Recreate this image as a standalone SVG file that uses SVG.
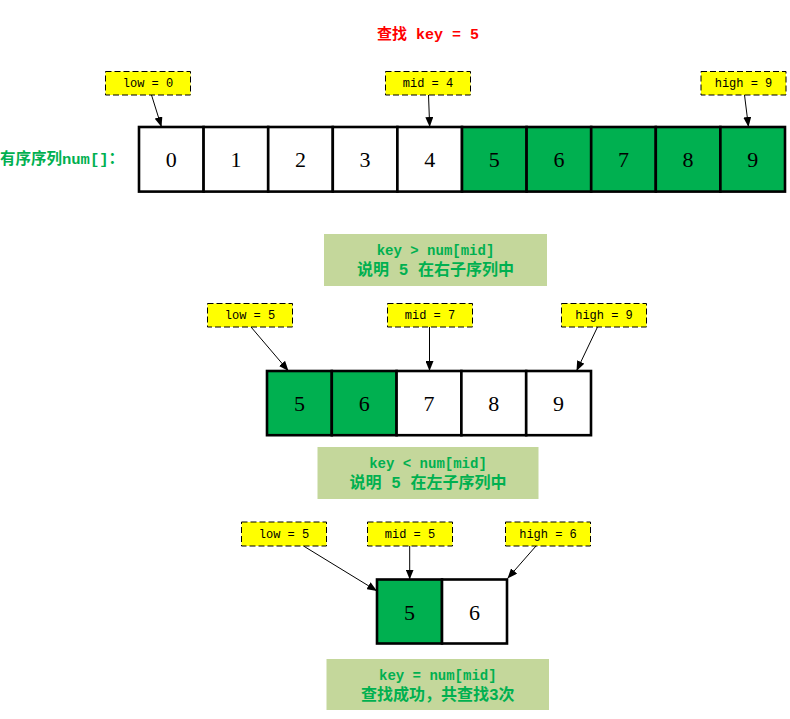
<svg xmlns="http://www.w3.org/2000/svg" width="790" height="719" viewBox="0 0 790 719">
<style>
.cell{stroke:#000;stroke-width:2.6}
.w{fill:#fff}
.g{fill:#00b050}
.num{font-family:"Liberation Serif","Noto Sans CJK SC",serif;font-size:22px;text-anchor:middle;fill:#000}
.tag rect{fill:#ffff00;stroke:#000;stroke-width:1;stroke-dasharray:6,3}
.tag text{font-family:"Liberation Mono","Noto Sans CJK SC",monospace;font-size:12px;text-anchor:middle;fill:#000}
.note rect{fill:#c4d79b}
.note text{font-family:"Liberation Mono","Noto Sans CJK SC",monospace;font-weight:bold;text-anchor:middle;fill:#00b050}
.l1{font-size:14px}
.l2{font-size:16px}
.conn line{stroke:#000;stroke-width:1;marker-end:url(#ah)}
</style>
<defs>
<marker id="ah" markerUnits="userSpaceOnUse" markerWidth="10" markerHeight="8" refX="10" refY="4" orient="auto">
<path d="M0,0 L10,4 L0,8 z" fill="#000"/>
</marker>
</defs>
<rect width="790" height="719" fill="#fff"/>
<g id="title"><text x="428" y="39" font-family="Liberation Mono,Noto Sans CJK SC,monospace" font-weight="bold" font-size="15" fill="#ff0000" text-anchor="middle">查找 key = 5</text></g>
<g id="arrayLabel"><text x="0" y="164" font-family="Liberation Mono,Noto Sans CJK SC,monospace" font-weight="bold" font-size="15.5" fill="#00b050">有序序列num[]：</text></g>

<g id="array1">
<g id="a1c0"><rect class="cell w" x="139" y="127" width="64.6" height="64.6"/><text class="num" x="171.3" y="167">0</text></g>
<g id="a1c1"><rect class="cell w" x="203.6" y="127" width="64.6" height="64.6"/><text class="num" x="235.9" y="167">1</text></g>
<g id="a1c2"><rect class="cell w" x="268.2" y="127" width="64.6" height="64.6"/><text class="num" x="300.5" y="167">2</text></g>
<g id="a1c3"><rect class="cell w" x="332.8" y="127" width="64.6" height="64.6"/><text class="num" x="365.1" y="167">3</text></g>
<g id="a1c4"><rect class="cell w" x="397.4" y="127" width="64.6" height="64.6"/><text class="num" x="429.7" y="167">4</text></g>
<g id="a1c5"><rect class="cell g" x="462" y="127" width="64.6" height="64.6"/><text class="num" x="494.3" y="167">5</text></g>
<g id="a1c6"><rect class="cell g" x="526.6" y="127" width="64.6" height="64.6"/><text class="num" x="558.9" y="167">6</text></g>
<g id="a1c7"><rect class="cell g" x="591.2" y="127" width="64.6" height="64.6"/><text class="num" x="623.5" y="167">7</text></g>
<g id="a1c8"><rect class="cell g" x="655.8" y="127" width="64.6" height="64.6"/><text class="num" x="688.1" y="167">8</text></g>
<g id="a1c9"><rect class="cell g" x="720.4" y="127" width="64.6" height="64.6"/><text class="num" x="752.7" y="167">9</text></g>
</g>

<g id="low1" class="tag"><rect x="105.5" y="71.5" width="85" height="23.5"/><text x="148" y="87">low = 0</text></g>
<g id="mid1" class="tag"><rect x="385.5" y="71.5" width="85" height="23.5"/><text x="428" y="87">mid = 4</text></g>
<g id="high1" class="tag"><rect x="701" y="71.5" width="85" height="23.5"/><text x="743.5" y="87">high = 9</text></g>

<g id="note1" class="note"><rect x="324" y="234" width="223" height="52"/><text class="l1" x="435.5" y="255">key &gt; num[mid]</text><text class="l2" x="435.5" y="275">说明 5 在右子序列中</text></g>

<g id="low2" class="tag"><rect x="207.5" y="303.5" width="85" height="23.5"/><text x="250" y="319">low = 5</text></g>
<g id="mid2" class="tag"><rect x="387.5" y="303.5" width="85" height="23.5"/><text x="430" y="319">mid = 7</text></g>
<g id="high2" class="tag"><rect x="561.5" y="303.5" width="85" height="23.5"/><text x="604" y="319">high = 9</text></g>

<g id="array2">
<g id="a2c0"><rect class="cell g" x="267" y="371" width="64.8" height="64.2"/><text class="num" x="299.4" y="411">5</text></g>
<g id="a2c1"><rect class="cell g" x="331.8" y="371" width="64.8" height="64.2"/><text class="num" x="364.2" y="411">6</text></g>
<g id="a2c2"><rect class="cell w" x="396.6" y="371" width="64.8" height="64.2"/><text class="num" x="429" y="411">7</text></g>
<g id="a2c3"><rect class="cell w" x="461.4" y="371" width="64.8" height="64.2"/><text class="num" x="493.8" y="411">8</text></g>
<g id="a2c4"><rect class="cell w" x="526.2" y="371" width="64.8" height="64.2"/><text class="num" x="558.6" y="411">9</text></g>
</g>

<g id="note2" class="note"><rect x="317.5" y="447" width="221" height="52"/><text class="l1" x="428" y="467.5">key &lt; num[mid]</text><text class="l2" x="428" y="487.5">说明 5 在左子序列中</text></g>

<g id="low3" class="tag"><rect x="241.5" y="522" width="85" height="24"/><text x="284" y="538">low = 5</text></g>
<g id="mid3" class="tag"><rect x="367.5" y="522" width="85" height="24"/><text x="410" y="538">mid = 5</text></g>
<g id="high3" class="tag"><rect x="505.5" y="522" width="85" height="24"/><text x="548" y="538">high = 6</text></g>

<g id="array3">
<g id="a3c0"><rect class="cell g" x="377" y="579.5" width="65" height="64"/><text class="num" x="409.5" y="619.5">5</text></g>
<g id="a3c1"><rect class="cell w" x="442" y="579.5" width="65" height="64"/><text class="num" x="474.5" y="619.5">6</text></g>
</g>

<g id="note3" class="note"><rect x="326.5" y="659" width="222.5" height="51"/><text class="l1" x="437.8" y="680">key = num[mid]</text><text class="l2" x="437.8" y="700">查找成功，共查找3次</text></g>

<g id="connectors" class="conn">
<line x1="151.5" y1="95" x2="161.5" y2="127"/>
<line x1="428.5" y1="95" x2="429.7" y2="127"/>
<line x1="744.5" y1="95" x2="748.5" y2="127"/>
<line x1="251" y1="327" x2="288.5" y2="371"/>
<line x1="429.5" y1="327" x2="429.5" y2="371"/>
<line x1="597.5" y1="327" x2="576.5" y2="371"/>
<line x1="303.5" y1="546" x2="377" y2="591"/>
<line x1="409.7" y1="546" x2="409.7" y2="579.5"/>
<line x1="536" y1="546" x2="507.5" y2="578.5"/>
</g>
</svg>
